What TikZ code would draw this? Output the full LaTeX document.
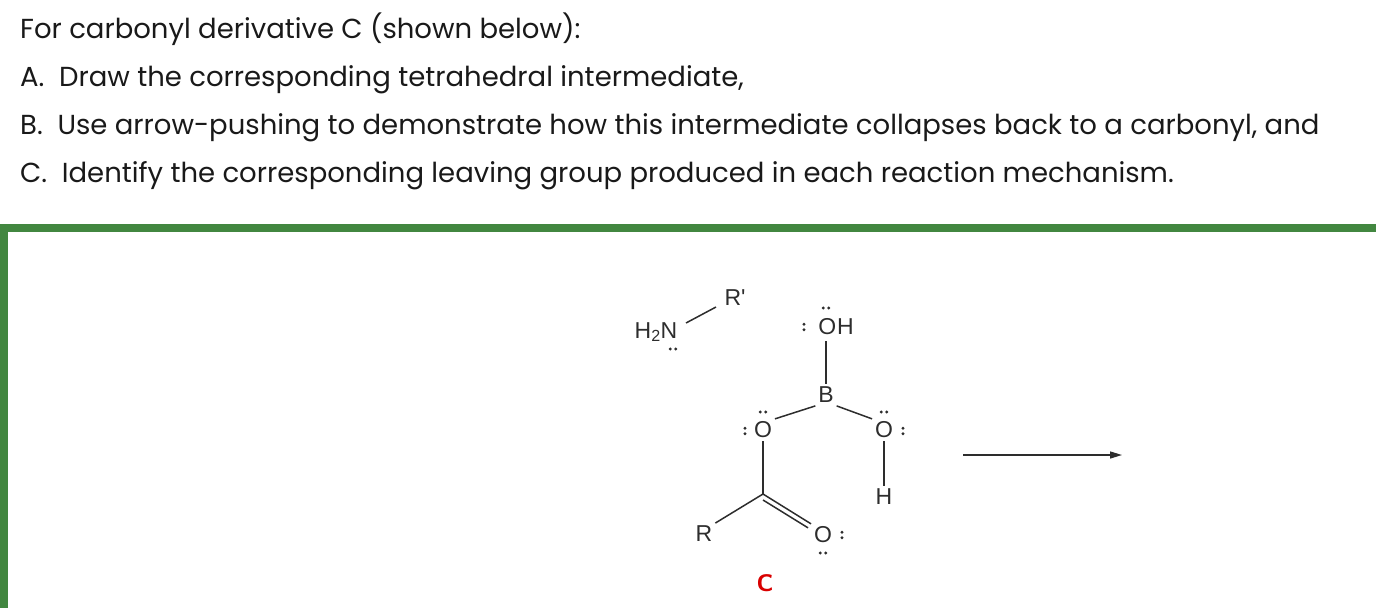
\documentclass[tikz,border=0pt]{standalone}
\usepackage{fontspec}
\setmainfont{Poppins}
\newfontfamily\molfont{Liberation Sans}
\usetikzlibrary{arrows.meta}
\definecolor{frameg}{RGB}{66,135,64}
\definecolor{bondc}{RGB}{45,45,45}
\tikzset{
  q/.style={anchor=base west,inner sep=0pt,font=\fontsize{27.5}{30}\selectfont,text=black!90},
  atm/.style={inner sep=0pt,outer sep=3pt,font=\molfont\fontsize{23}{23}\selectfont,text=bondc},
  bd/.style={line width=1.5pt,draw=bondc},
  lp/.style={fill=bondc},
}
\newcommand{\dotpair}[3]{% x y orientation h/v
  \ifx#3h\fill[lp] (#1-2.8,#2) circle (1.6); \fill[lp] (#1+2.8,#2) circle (1.6);
  \else\fill[lp] (#1,#2-2.8) circle (1.6); \fill[lp] (#1,#2+2.8) circle (1.6);\fi}
\begin{document}
\begin{tikzpicture}[x=1pt,y=-1pt]
\useasboundingbox (0,0) rectangle (1376,608);
\node[q] (t1) at (20,38) {For carbonyl derivative C (shown below):};
\node[q] (t2) at (20,86) {A.\ \ Draw the corresponding tetrahedral intermediate,};
\node[q] (t3) at (20,134) {B.\ \ Use arrow-pushing to demonstrate how this intermediate collapses back to a carbonyl, and};
\node[q] (t4) at (20,182) {C.\ \ Identify the corresponding leaving group produced in each reaction mechanism.};
\fill[frameg] (0,224) rectangle (1376,232);
\fill[frameg] (0,224) rectangle (8,608);
% molecule
\node[atm] (n) at (656,332) {H\textsubscript{2}N};
\node[atm] (rp) at (735,298) {R'};
\node[atm] (oh) at (836,327) {O\hspace{1pt}H};
\node[atm] (b) at (826,395) {B};
\node[atm] (ol) at (763,430) {O};
\node[atm] (or) at (884,430) {O};
\node[atm] (h) at (884,497) {H};
\coordinate (c) at (763,494);
\node[atm] (r) at (704,534) {R};
\node[atm] (oc) at (823,535) {O};
\node[font=\sffamily\bfseries\fontsize{24}{24}\selectfont,text=red!85!black] (lab) at (765,583) {C};
\draw[bd] (686,323) -- (716,307);
\draw[bd] (826,341) -- (b.north);
\draw[bd] (b.south west) -- (ol.north east);
\draw[bd] (b.south east) -- (or.north west);
\draw[bd] (or.south) -- (h.north);
\draw[bd] (ol.south) -- (c);
\draw[bd] (c) -- (r.north east);
\draw[bd] (c) -- (oc.north west);
\draw[bd] ([yshift=-6]c) -- ([xshift=-3,yshift=-4]oc.north west);
% lone pairs
\dotpair{673}{349}{h}
\dotpair{826}{308}{h}
\dotpair{804}{327}{v}
\dotpair{763}{412}{h}
\dotpair{745}{431}{v}
\dotpair{884}{412}{h}
\dotpair{903}{431}{v}
\dotpair{823}{553}{h}
\dotpair{842}{535}{v}
\coordinate (a1) at (963,455);
\coordinate (a2) at (1122,455);
\draw[line width=1.5pt,draw=bondc,-{Triangle[length=12pt,width=7pt]}] (a1) -- (a2);
\end{tikzpicture}
\end{document}
